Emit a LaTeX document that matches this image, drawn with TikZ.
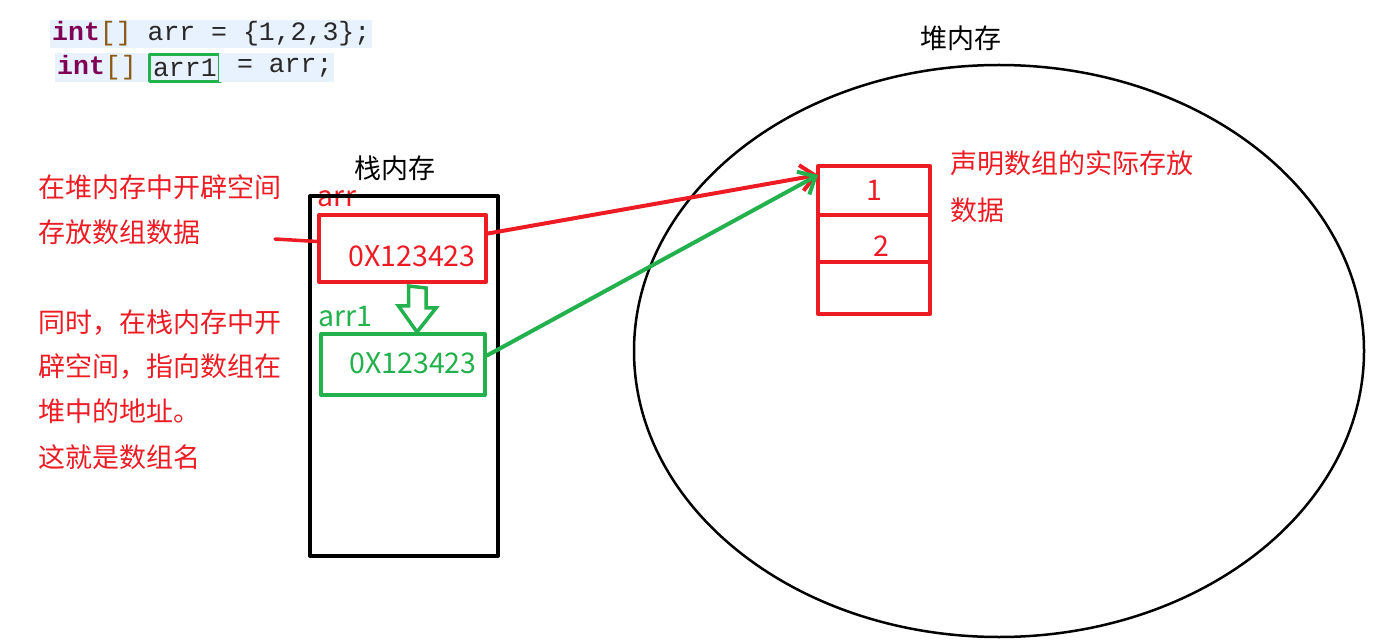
\documentclass[tikz,border=0pt]{standalone}
\usepackage{fontspec}
\setmainfont{Noto Sans CJK SC}
\setmonofont{Liberation Mono}
\usepackage{xcolor}
\usetikzlibrary{positioning,arrows.meta,calc}
\definecolor{paintred}{RGB}{237,28,36}
\definecolor{paintgreen}{RGB}{34,177,76}
\definecolor{codebg}{RGB}{232,242,254}
\definecolor{codekw}{RGB}{127,0,85}
\definecolor{codebr}{RGB}{140,90,20}
\definecolor{codetxt}{RGB}{40,40,40}
\newcommand{\csp}{\hphantom{0}}

\tikzset{
  codeline/.style={fill=codebg, inner xsep=0pt, inner ysep=0pt, minimum height=28pt,
    font=\fontsize{26.5}{28}\selectfont\ttfamily, text=codetxt, anchor=west},
  redtext/.style={text=paintred, font=\fontsize{27}{30}\selectfont, anchor=west, inner sep=0pt},
  blacktext/.style={text=black, font=\fontsize{27}{30}\selectfont, inner sep=0pt},
  latin/.style={font=\fontsize{28.5}{30}\selectfont, inner sep=0pt},
  slot/.style={draw, line width=4pt, inner sep=0pt},
  cell/.style={draw=paintred, line width=4pt, minimum width=112pt, inner sep=0pt, outer sep=0pt,
    text=paintred, font=\fontsize{28.5}{30}\selectfont},
  pointer/.style={line width=4pt, -{Straight Barb[length=14pt,width=26pt]}}
}

\begin{document}
\begin{tikzpicture}[line cap=round,line join=round,x=1pt,y=-1pt]
    \useasboundingbox (0,0) rectangle (1400,644);

    % code
    \node[codeline, text width=318pt, align=left, inner xsep=2pt] (code1) at (50,34)
        {\textcolor{codekw}{\textbf{int}}\textcolor{codebr}{[]}\csp arr\csp=\csp\{1,2,3\};};
    \node[codeline, minimum height=29pt, inner xsep=2pt] (code2a) at (55,68)
        {\textcolor{codekw}{\textbf{int}}\textcolor{codebr}{[]}\csp};
    \node[codeline, minimum height=27pt, inner xsep=3.5pt, draw=paintgreen, line width=3.5pt,
        right=-7pt of code2a] (code2b) {arr1};
    \node[codeline, minimum height=29pt, inner xsep=2pt, right=-3pt of code2b] (code2c) {\csp=\csp arr;};

    % heap
    \draw[line width=2.5pt] (999,351) ellipse [x radius=365, y radius=286];
    \node[blacktext] (heaptitle) at (961,38) {堆内存};

    \node[cell, minimum height=49pt] (cell1) at (874,190.5) {1};
    \node[cell, minimum height=47pt, text height=37pt, below=0pt of cell1] (cell2) {\hspace*{14pt}2};
    \node[cell, minimum height=52pt, below=0pt of cell2] (cell3) {};
    \coordinate (heaptip) at ($(cell1.north west)+(0,9)$);

    \node[redtext] (heapnote1) at (950,163) {声明数组的实际存放};
    \node[redtext] (heapnote2) at (950,210) {数据};

    % stack
    \node[blacktext] (stacktitle) at (395,168) {栈内存};
    \node[latin, text=paintred] (arrlabel) at (337,199) {arr};
    \draw[line width=4pt] (310,196) rectangle (498,556);

    \node[slot, draw=paintred, minimum width=167pt, minimum height=67pt] (arrslot) at (402.5,248.5) {};
    \node[latin, text=paintred] (arrval) at (412,256) {0X123423};

    \node[latin, text=paintgreen] (arr1label) at (345,317) {arr1};
    \node[slot, draw=paintgreen, minimum width=164pt, minimum height=61pt] (arr1slot) at (403,364.5) {};
    \node[latin, text=paintgreen] (arr1val) at (413,363) {0X123423};

    % copy arrow
    \draw[paintgreen, line width=3.5pt, line cap=butt, line join=miter]
        ($(arrslot.south)+(6,2)$) -- ++(0,20) -- ++(-10,0) -- ($(arr1slot.north)+(14,0)$)
        -- ++(19,-24) -- ++(-10,0) -- ++(0,-20) -- cycle;

    % pointers
    \draw[pointer, paintred] ($(arrslot.east)+(0,-15)$) -- (heaptip);
    \draw[pointer, paintgreen] ($(arr1slot.east)+(0,-9)$) -- (heaptip);

    % notes
    \node[redtext] (note1) at (38,187) {在堆内存中开辟空间};
    \node[redtext] (note2) at (38,232) {存放数组数据};
    \coordinate (note2end) at (275,239);
    \draw[paintred, line width=3.5pt] (note2end) -- ($(arrslot.west)+(0,-7)$);

    \node[redtext] (note3) at (38,323) {同时，在栈内存中开};
    \node[redtext] (note4) at (38,367) {辟空间，指向数组在};
    \node[redtext] (note5) at (38,411) {堆中的地址。};
    \node[redtext] (note6) at (38,457) {这就是数组名};
\end{tikzpicture}
\end{document}
